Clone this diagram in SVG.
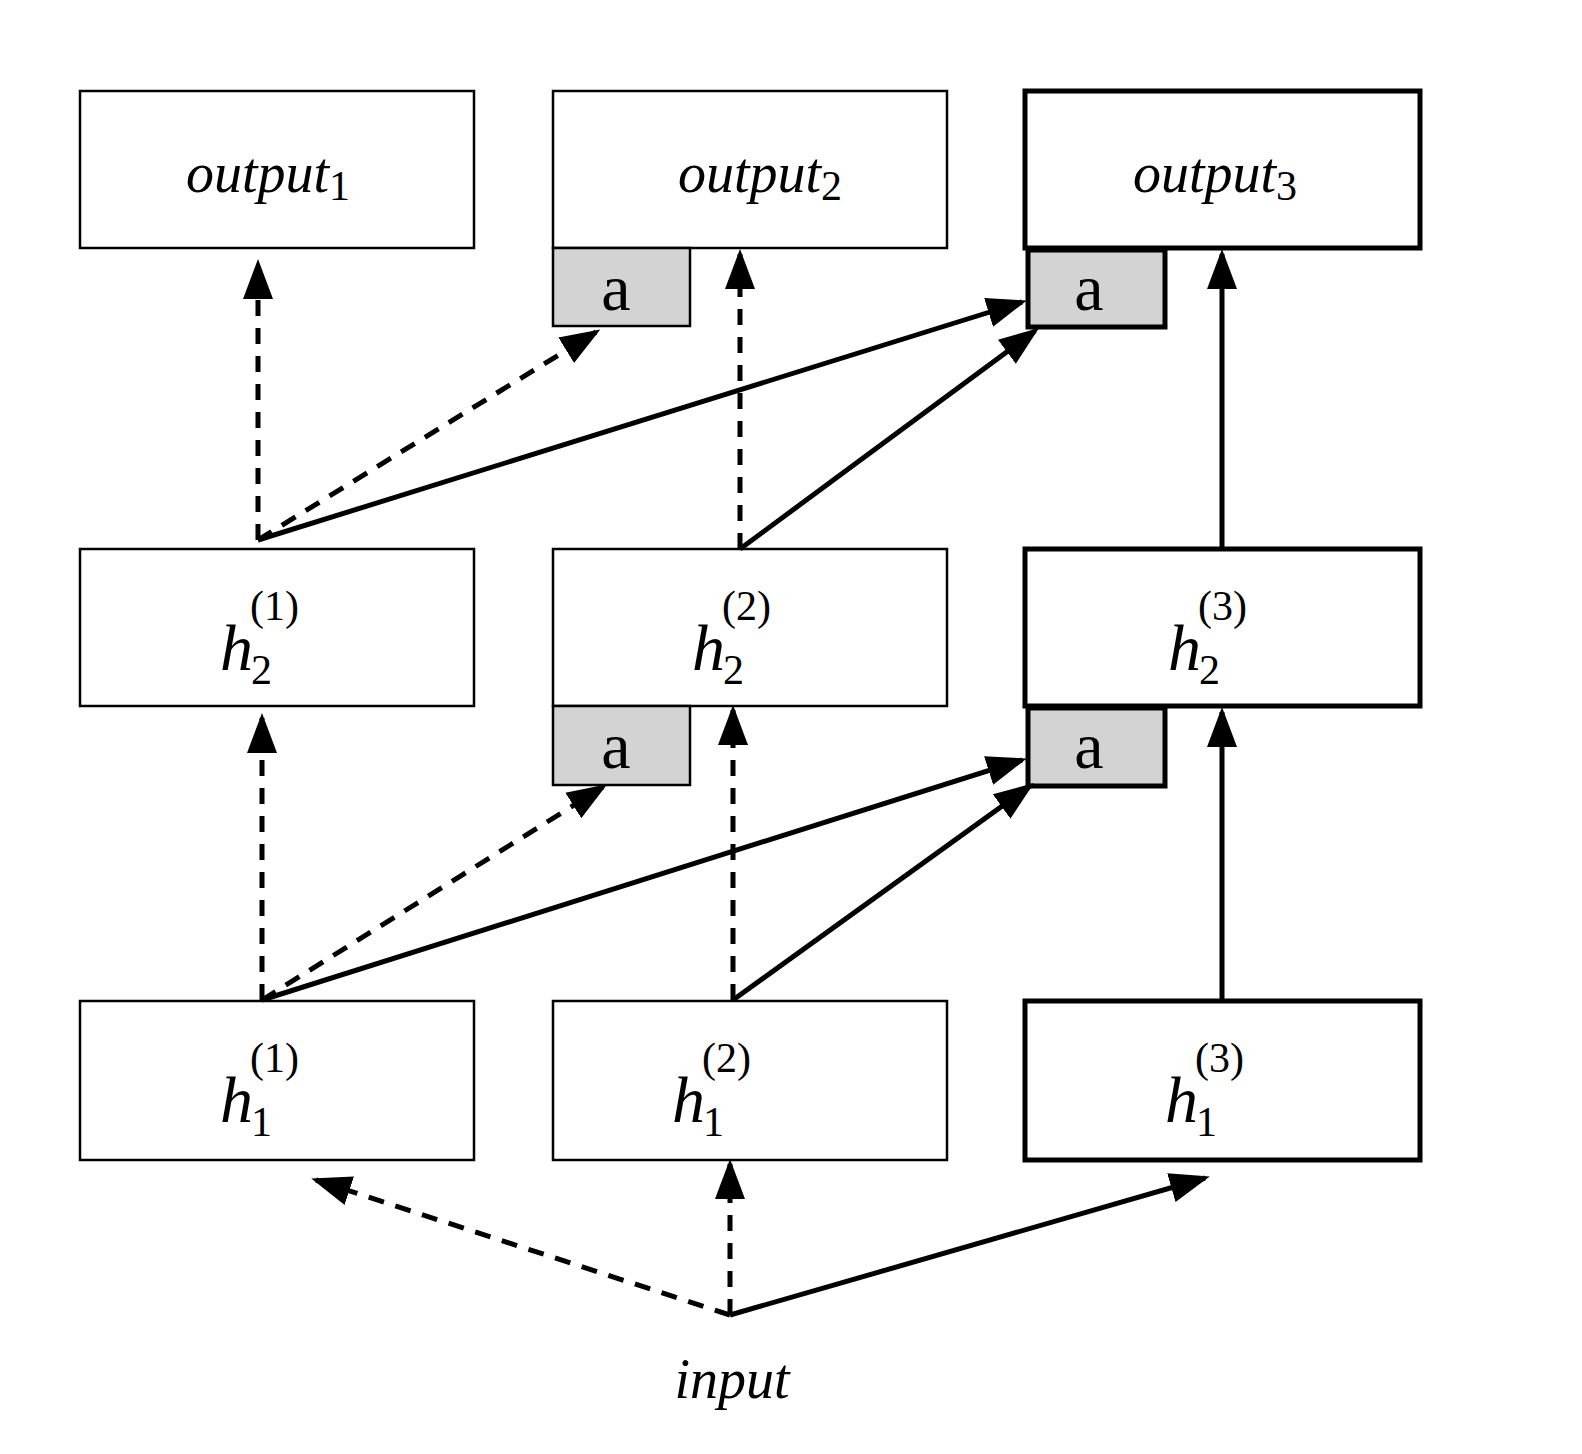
<svg xmlns="http://www.w3.org/2000/svg" width="1582" height="1454" viewBox="0 0 1582 1454">
<style>
.b{fill:#fff;stroke:#000;stroke-width:2.5}
.t{stroke-width:5}
.a{fill:#d3d3d3;stroke:#000;stroke-width:2.5}
.at{fill:#d3d3d3;stroke:#000;stroke-width:5}
.m{font-family:'Liberation Serif',serif;font-style:italic;font-size:56px;text-anchor:middle}
.h{font-family:'Liberation Serif',serif;font-style:italic;font-size:66px}
.s{font-style:normal;font-size:42px}
.r{font-family:'Liberation Serif',serif;font-size:66px;text-anchor:middle}
.c{stroke:#000;stroke-width:5;fill:none}
.d{stroke-dasharray:16 12}
</style>
<defs>
<marker id="ar" markerWidth="8" markerHeight="8" refX="7" refY="4" orient="auto" markerUnits="strokeWidth"><path d="M0,1 L8,4 L0,7 Z" fill="#000"/></marker>
</defs>
<rect width="1582" height="1454" fill="#fff"/>
<g id="output1"><rect class="b" x="80" y="91" width="394" height="157"/><text class="m" x="268" y="192">output<tspan class="s" font-size="34" dy="8">1</tspan></text></g>
<g id="output2"><rect class="b" x="553" y="91" width="394" height="157"/><text class="m" x="760" y="192">output<tspan class="s" font-size="34" dy="8">2</tspan></text></g>
<g id="output3"><rect class="b t" x="1025" y="91" width="395" height="157"/><text class="m" x="1215" y="192">output<tspan class="s" font-size="34" dy="8">3</tspan></text></g>
<g id="a2top"><rect class="a" x="553" y="248" width="137" height="78"/><text class="r" x="616" y="310">a</text></g>
<g id="a3top"><rect class="at" x="1028" y="250" width="137" height="77"/><text class="r" x="1089" y="310">a</text></g>
<g id="h21"><rect class="b" x="80" y="549" width="394" height="157"/><text class="h" x="220" y="670">h<tspan class="s" dx="-2" dy="14">2</tspan><tspan class="s" dx="-22" dy="-64">(1)</tspan></text></g>
<g id="h22"><rect class="b" x="553" y="549" width="394" height="157"/><text class="h" x="692" y="670">h<tspan class="s" dx="-2" dy="14">2</tspan><tspan class="s" dx="-22" dy="-64">(2)</tspan></text></g>
<g id="h23"><rect class="b t" x="1025" y="549" width="395" height="157"/><text class="h" x="1168" y="670">h<tspan class="s" dx="-2" dy="14">2</tspan><tspan class="s" dx="-22" dy="-64">(3)</tspan></text></g>
<g id="a2mid"><rect class="a" x="553" y="706" width="137" height="79"/><text class="r" x="616" y="768">a</text></g>
<g id="a3mid"><rect class="at" x="1028" y="708" width="137" height="78"/><text class="r" x="1089" y="768">a</text></g>
<g id="h11"><rect class="b" x="80" y="1001" width="394" height="159"/><text class="h" x="220" y="1122">h<tspan class="s" dx="-2" dy="14">1</tspan><tspan class="s" dx="-22" dy="-64">(1)</tspan></text></g>
<g id="h12"><rect class="b" x="553" y="1001" width="394" height="159"/><text class="h" x="672" y="1122">h<tspan class="s" dx="-2" dy="14">1</tspan><tspan class="s" dx="-22" dy="-64">(2)</tspan></text></g>
<g id="h13"><rect class="b t" x="1025" y="1001" width="395" height="159"/><text class="h" x="1165" y="1122">h<tspan class="s" dx="-2" dy="14">1</tspan><tspan class="s" dx="-22" dy="-64">(3)</tspan></text></g>
<g id="input"><text class="m" x="732" y="1398">input</text></g>
<g id="connectors">
<line class="c d" x1="258" y1="540" x2="258" y2="264" marker-end="url(#ar)"/>
<line class="c d" x1="258" y1="540" x2="596" y2="332" marker-end="url(#ar)"/>
<line class="c" x1="258" y1="540" x2="1022" y2="302" marker-end="url(#ar)"/>
<line class="c d" x1="740" y1="549" x2="740" y2="254" marker-end="url(#ar)"/>
<line class="c" x1="740" y1="549" x2="1035" y2="331" marker-end="url(#ar)"/>
<line class="c" x1="1222" y1="549" x2="1222" y2="254" marker-end="url(#ar)"/>
<line class="c d" x1="262" y1="1000" x2="262" y2="718" marker-end="url(#ar)"/>
<line class="c d" x1="262" y1="1000" x2="603" y2="787" marker-end="url(#ar)"/>
<line class="c" x1="262" y1="1000" x2="1022" y2="760" marker-end="url(#ar)"/>
<line class="c d" x1="733" y1="1000" x2="733" y2="710" marker-end="url(#ar)"/>
<line class="c" x1="733" y1="1000" x2="1030" y2="786" marker-end="url(#ar)"/>
<line class="c" x1="1222" y1="1000" x2="1222" y2="712" marker-end="url(#ar)"/>
<line class="c d" x1="730" y1="1315" x2="316" y2="1180" marker-end="url(#ar)"/>
<line class="c d" x1="730" y1="1315" x2="730" y2="1164" marker-end="url(#ar)"/>
<line class="c" x1="730" y1="1315" x2="1205" y2="1178" marker-end="url(#ar)"/>
</g>
</svg>
